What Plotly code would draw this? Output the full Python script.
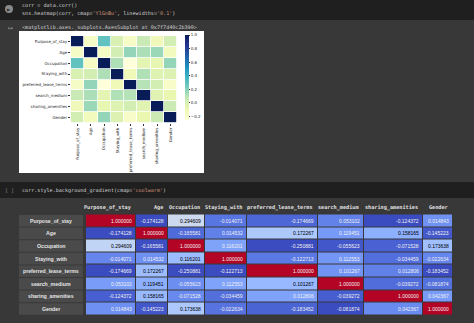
import plotly.graph_objects as go

W, H = 474, 323

# ---- data: correlation matrix of the survey features ----
LABELS = ["Purpose_of_stay", "Age", "Occupation", "Staying_with",
          "preferred_lease_terms", "search_medium", "sharing_amenities", "Gender"]

ROW_PURPOSE = [1.000000, -0.174128, 0.294609, -0.014071, -0.174669, 0.053102, -0.124372, 0.014843]
ROW_AGE = [-0.174128, 1.000000, -0.165581, 0.014532, 0.172267, 0.119451, 0.158165, -0.145223]
ROW_OCCUPATION = [0.294609, -0.165581, 1.000000, 0.116201, -0.250881, -0.055623, -0.071528, 0.173638]
ROW_STAYING = [-0.014071, 0.014532, 0.116201, 1.000000, -0.122713, 0.112553, -0.034459, -0.022634]
ROW_LEASE = [-0.174669, 0.172267, -0.250881, -0.122713, 1.000000, 0.101267, 0.012806, -0.183452]
ROW_SEARCH = [0.053102, 0.119451, -0.055623, 0.112553, 0.101267, 1.000000, -0.039272, -0.081874]
ROW_SHARING = [-0.124372, 0.158165, -0.071528, -0.034459, 0.012806, -0.039272, 1.000000, 0.042367]
ROW_GENDER = [0.014843, -0.145223, 0.173638, -0.022634, -0.183452, -0.081874, 0.042367, 1.000000]

CORR = [ROW_PURPOSE, ROW_AGE, ROW_OCCUPATION, ROW_STAYING,
        ROW_LEASE, ROW_SEARCH, ROW_SHARING, ROW_GENDER]

CBAR_TICKS = [-0.2, 0.0, 0.2, 0.4, 0.6, 0.8, 1.0]

# ---- colour maps ----
YLGNBU = ["#ffffd9", "#edf8b1", "#c7e9b4", "#7fcdbb", "#41b6c4",
          "#1d91c0", "#225ea8", "#253494", "#081d58"]
YLGNBU_SCALE = [[i / (len(YLGNBU) - 1), c] for i, c in enumerate(YLGNBU)]

COOLWARM_RGB = [
    (59, 76, 192), (68, 90, 204), (77, 104, 215), (87, 117, 225), (98, 130, 234),
    (108, 142, 241), (119, 154, 247), (130, 165, 251), (141, 176, 254), (152, 185, 255),
    (163, 194, 255), (174, 201, 253), (184, 208, 249), (194, 213, 244), (204, 217, 238),
    (213, 219, 230), (221, 221, 221), (229, 216, 209), (236, 211, 197), (241, 204, 185),
    (245, 196, 173), (247, 187, 160), (247, 177, 148), (247, 166, 135), (244, 154, 123),
    (241, 141, 111), (236, 127, 99), (229, 112, 88), (222, 96, 77), (213, 80, 66),
    (203, 62, 56), (192, 40, 47), (180, 4, 38)]
N_CW = len(COOLWARM_RGB) - 1
COOLWARM_SCALE = [[i / N_CW, "rgb(%d,%d,%d)" % c] for i, c in enumerate(COOLWARM_RGB)]


def coolwarm(t):
    t = min(max(t, 0.0), 1.0) * N_CW
    i = min(int(t), N_CW - 1)
    f = t - i
    a, b = COOLWARM_RGB[i], COOLWARM_RGB[i + 1]
    return tuple(a[k] + (b[k] - a[k]) * f for k in range(3))


def luminance(rgb):
    def lin(c):
        c = c / 255.0
        return c / 12.92 if c <= 0.03928 else ((c + 0.055) / 1.055) ** 2.4
    r, g, b = (lin(c) for c in rgb)
    return 0.2126 * r + 0.7152 * g + 0.0722 * b


def px(x):
    return x / W


def py(y):
    return 1 - y / H


# ---- page colours & fonts ----
PAGE_BG = "#383838"
CODE_BG = "#1f1f1f"
INDEX_BG = "#4a4a4a"
MONO = "DejaVu Sans Mono"
SANS = "Liberation Sans, Arial, sans-serif"

fig = go.Figure()

# seaborn-style heatmap
fig.add_trace(go.Heatmap(
    z=CORR, x=LABELS, y=LABELS,
    colorscale=YLGNBU_SCALE,
    zmin=min(min(r) for r in CORR), zmax=max(max(r) for r in CORR),
    xgap=0.8, ygap=0.8, hoverinfo="skip",
    colorbar=dict(
        x=px(185), xanchor="left", xpad=0, thickness=4, thicknessmode="pixels",
        y=py(77.5), yanchor="middle", len=85 / H, lenmode="fraction", ypad=0,
        outlinewidth=0, tickvals=CBAR_TICKS, tickformat=".1f",
        ticks="outside", ticklen=1.5, tickcolor="#333333",
        tickfont=dict(family="DejaVu Sans", size=4, color="#262626"),
    ),
    xaxis="x", yaxis="y",
))

# styled correlation table (gradient per column)
COL_EDGES = [86, 136, 168, 205, 247, 318, 364, 423, 453]
ROW_TOP, ROW_H = 214.5, 12.6
ROW_EDGES = [ROW_TOP + ROW_H * i for i in range(len(LABELS) + 1)]

n = len(LABELS)
col_min = [min(CORR[r][c] for r in range(n)) for c in range(n)]
col_max = [max(CORR[r][c] for r in range(n)) for c in range(n)]
z_norm = [[(CORR[r][c] - col_min[c]) / (col_max[c] - col_min[c]) for c in range(n)]
          for r in range(n)]

fig.add_trace(go.Heatmap(
    z=z_norm, x=COL_EDGES, y=ROW_EDGES,
    colorscale=COOLWARM_SCALE, zmin=0, zmax=1, showscale=False,
    xgap=1, ygap=1, hoverinfo="skip",
    xaxis="x2", yaxis="y2",
))

shapes = []
annotations = []

# notebook cells backgrounds
shapes.append(dict(type="rect", xref="paper", yref="paper", x0=0, x1=1, y0=py(20), y1=1,
                   fillcolor=CODE_BG, line_width=0, layer="below"))
shapes.append(dict(type="rect", xref="paper", yref="paper", x0=0, x1=1, y0=py(198), y1=py(182),
                   fillcolor=CODE_BG, line_width=0, layer="below"))
# white figure canvas
shapes.append(dict(type="rect", xref="paper", yref="paper", x0=px(19), x1=px(204),
                   y0=py(173), y1=py(31), fillcolor="white", line_width=0, layer="below"))
# run button
shapes.append(dict(type="circle", xref="paper", yref="paper", x0=px(5), x1=px(13),
                   y0=py(13), y1=py(5), fillcolor="#8a8a8a", line_width=0, layer="below"))
annotations.append(dict(x=9.4, y=9, xref="x2", yref="y2", text="▶", showarrow=False,
                        font=dict(size=4, color="#2a2a2a"), xanchor="center", yanchor="middle"))

# index cells of the table
for i, lab in enumerate(LABELS):
    y0, y1 = ROW_EDGES[i] + 0.5, ROW_EDGES[i + 1] - 0.5
    shapes.append(dict(type="rect", xref="paper", yref="paper", x0=px(19), x1=px(83),
                       y0=py(y1), y1=py(y0), fillcolor=INDEX_BG, line_width=0, layer="below"))
    annotations.append(dict(x=51, y=(y0 + y1) / 2, xref="x2", yref="y2", text="<b>%s</b>" % lab,
                            showarrow=False, xanchor="center", yanchor="middle",
                            font=dict(family=SANS, size=5.2, color="#e6e6e6")))

# column headers
for c, lab in enumerate(LABELS):
    annotations.append(dict(x=COL_EDGES[c + 1] - 3, y=207, xref="x2", yref="y2",
                            text="<b>%s</b>" % lab, showarrow=False,
                            xanchor="right", yanchor="middle",
                            font=dict(family=MONO, size=5.2, color="#e0e0e0")))

# cell values
for r in range(n):
    for c in range(n):
        rgb = coolwarm(z_norm[r][c])
        color = "#f1f1f1" if luminance(rgb) < 0.408 else "#000000"
        annotations.append(dict(x=COL_EDGES[c + 1] - 2, y=(ROW_EDGES[r] + ROW_EDGES[r + 1]) / 2,
                                xref="x2", yref="y2", text="%.6f" % CORR[r][c],
                                showarrow=False, xanchor="right", yanchor="middle",
                                font=dict(family=SANS, size=5, color=color)))

# code lines
STR = "#ce9178"
CODE_FG = "#d4d4d4"
annotations.append(dict(x=20, y=5, xref="x2", yref="y2", text="corr = data.corr()",
                        showarrow=False, xanchor="left", yanchor="middle",
                        font=dict(family=MONO, size=5.1, color=CODE_FG)))
annotations.append(dict(
    x=20, y=13, xref="x2", yref="y2",
    text="sns.heatmap(corr, cmap=<span style='color:%s'>'YlGnBu'</span>, "
         "linewidths=<span style='color:%s'>'0.1'</span>)" % (STR, STR),
    showarrow=False, xanchor="left", yanchor="middle",
    font=dict(family=MONO, size=5.1, color=CODE_FG)))
annotations.append(dict(
    x=20, y=27, xref="x2", yref="y2",
    text="&lt;matplotlib.axes._subplots.AxesSubplot at 0x7f7d40c2b390&gt;",
    showarrow=False, xanchor="left", yanchor="middle",
    font=dict(family=MONO, size=5.1, color="#d0d0d0")))
annotations.append(dict(x=10, y=27, xref="x2", yref="y2", text="↦", showarrow=False,
                        xanchor="center", yanchor="middle",
                        font=dict(family="DejaVu Sans", size=6, color="#9a9a9a")))
annotations.append(dict(x=9, y=190, xref="x2", yref="y2", text="[ ]", showarrow=False,
                        xanchor="center", yanchor="middle",
                        font=dict(family=MONO, size=5, color="#8a8a8a")))
annotations.append(dict(
    x=20, y=190, xref="x2", yref="y2",
    text="corr.style.background_gradient(cmap=<span style='color:%s'>'coolwarm'</span>)" % STR,
    showarrow=False, xanchor="left", yanchor="middle",
    font=dict(family=MONO, size=5.1, color=CODE_FG)))

tickfont = dict(family="DejaVu Sans", size=4, color="#262626")
fig.update_layout(
    width=W, height=H,
    margin=dict(l=0, r=0, t=0, b=0, pad=0),
    paper_bgcolor=PAGE_BG, plot_bgcolor="rgba(0,0,0,0)",
    showlegend=False,
    xaxis=dict(domain=[px(71), px(177)], anchor="y", showgrid=False, zeroline=False,
               showline=False, tickangle=-90, ticks="outside", ticklen=2, tickcolor="#333333",
               tickfont=tickfont, automargin=False, fixedrange=True),
    yaxis=dict(domain=[py(123), py(36)], anchor="x", showgrid=False, zeroline=False,
               showline=False, autorange="reversed", ticks="outside", ticklen=2,
               tickcolor="#333333", tickfont=tickfont, automargin=False, fixedrange=True),
    xaxis2=dict(domain=[0, 1], range=[0, W], anchor="y2", visible=False, fixedrange=True),
    yaxis2=dict(domain=[0, 1], range=[H, 0], anchor="x2", visible=False, fixedrange=True),
    shapes=shapes,
    annotations=annotations,
)

fig.write_html("out.html")
